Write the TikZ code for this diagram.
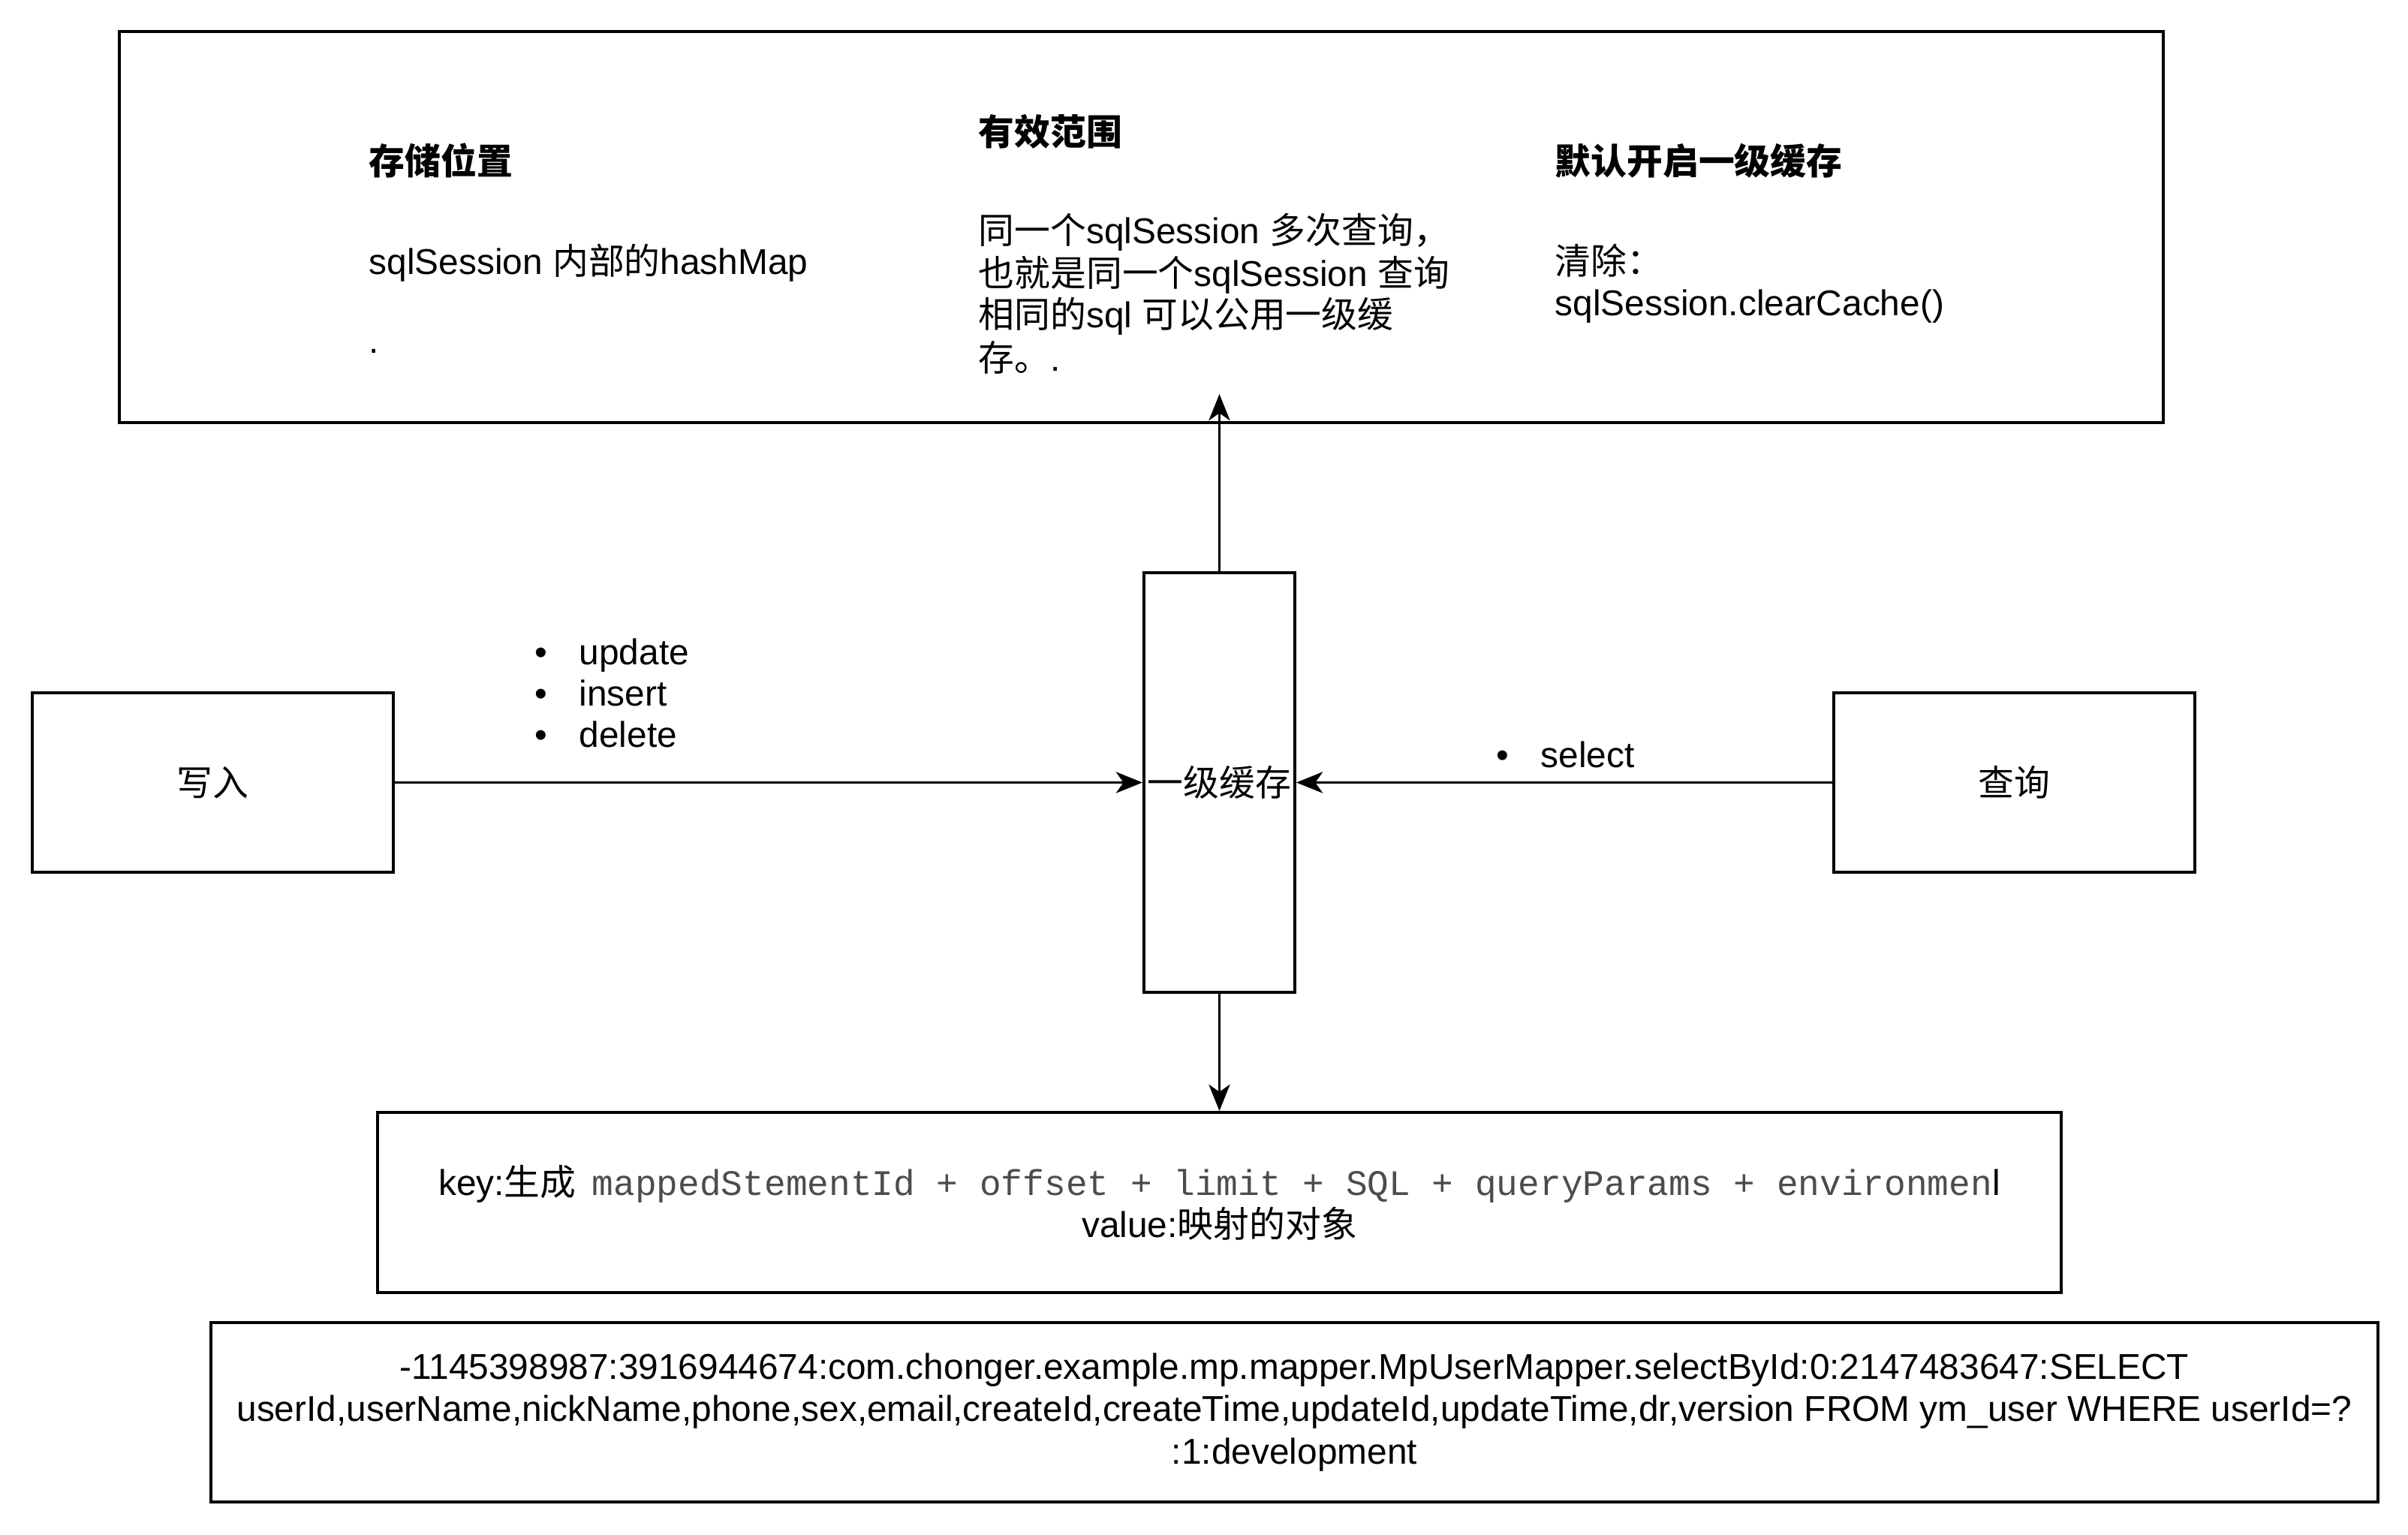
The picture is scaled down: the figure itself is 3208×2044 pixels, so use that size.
\documentclass[tikz,border=0pt]{standalone}
\usepackage{fontspec}
\setmainfont{Liberation Sans}
\newfontfamily\cjk{Noto Sans CJK SC}
\newfontfamily\monof{Liberation Mono}
\usetikzlibrary{arrows.meta}
\newcommand\C[1]{{\cjk #1}}
\begin{document}
\begin{tikzpicture}[x=0.01cm,y=-0.01cm,
  box/.style={draw, line width=1.1pt, inner sep=0pt, font=\fontsize{13.6pt}{16pt}\selectfont, align=center},
  txt/.style={font=\fontsize{13.6pt}{16pt}\selectfont, inner sep=0pt, anchor=base west},
  arr/.style={line width=1.1pt, -{Stealth[length=10pt,width=8pt,inset=2.8pt]}}]
\useasboundingbox (0,0) rectangle (3208,2044);
\fill[white] (0,0) rectangle (3208,2044);

% boxes
\node[box, minimum width=27.21cm, minimum height=5.21cm] (top) at (1520.5,302.5) {};
\node[box, minimum width=2.01cm, minimum height=5.59cm] (cache) at (1624.5,1042.5) {\C{一级缓存}};
\node[box, minimum width=4.81cm, minimum height=2.39cm] (write) at (283.5,1042.5) {\C{写入}};
\node[box, minimum width=4.81cm, minimum height=2.39cm] (query) at (2683.5,1042.5) {\C{查询}};
\node[box, minimum width=22.41cm, minimum height=2.40cm] (key) at (1624.5,1602)
  {key:\C{生成}\, {\monof\color{black!70}mappedStementId + offset + limit + SQL + queryParams + environmen}l\\value:\C{映射的对象}};
\node[box, minimum width=28.85cm, minimum height=2.39cm] (sample) at (1724.5,1881.5)
  {-1145398987:3916944674:com.chonger.example.mp.mapper.MpUserMapper.selectById:0:2147483647:SELECT\\
   userId,userName,nickName,phone,sex,email,createId,createTime,updateId,updateTime,dr,version FROM ym\_user WHERE userId=?\\
   :1:development};

% top box texts
\node[txt] (h1) at (491,232) {\cjk\bfseries 存储位置};
\node[txt] (t1a) at (491,365) {sqlSession \C{内部的}hashMap};
\node[txt] (t1b) at (491,470) {.};
\node[txt] (h2) at (1303,193) {\cjk\bfseries 有效范围};
\node[txt] (t2a) at (1303,324) {\C{同一个}sqlSession \C{多次查询，}};
\node[txt] (t2b) at (1303,381) {\C{也就是同一个}sqlSession \C{查询}};
\node[txt] (t2c) at (1303,436) {\C{相同的}sql \C{可以公用一级缓}};
\node[txt] (t2d) at (1303,494) {\C{存。}.};
\node[txt] (h3) at (2071,232) {\cjk\bfseries 默认开启一级缓存};
\node[txt] (t3a) at (2071,365) {\C{清除：}};
\node[txt] (t3b) at (2071,420) {sqlSession.clearCache()};

% bullets
\node[txt] (b1) at (712,885) {\textbullet};
\node[txt] (l1) at (771,885) {update};
\node[txt] (b2) at (712,940) {\textbullet};
\node[txt] (l2) at (771,940) {insert};
\node[txt] (b3) at (712,995) {\textbullet};
\node[txt] (l3) at (771,995) {delete};
\node[txt] (b4) at (1993,1022) {\textbullet};
\node[txt] (l4) at (2052,1022) {select};

% connectors
\coordinate (toptip) at (1624.5,525);
\draw[arr] (cache.north) -- (toptip);
\draw[arr] (cache.south) -- (key.north);
\draw[arr] (write.east) -- (cache.west);
\draw[arr] (query.west) -- (cache.east);
\end{tikzpicture}
\end{document}
